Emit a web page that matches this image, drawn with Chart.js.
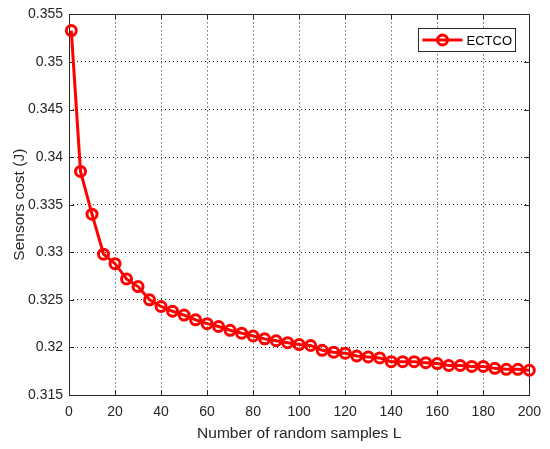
<!DOCTYPE html>
<html>
<head>
<meta charset="utf-8">
<script src="https://cdn.jsdelivr.net/npm/chart.js@4/dist/chart.umd.min.js"></script>
<style>
  html, body { margin: 0; padding: 0; background: #fff; }
  #wrap { width: 550px; height: 449px; position: relative; }
</style>
</head>
<body>
<div id="wrap"><canvas id="cost-chart"></canvas></div>
<script>
// values
const samplesL = [1, 5, 10, 15, 20, 25, 30, 35, 40, 45, 50, 55, 60, 65, 70, 75, 80, 85, 90, 95, 100,
                  105, 110, 115, 120, 125, 130, 135, 140, 145, 150, 155, 160, 165, 170, 175, 180, 185, 190, 195, 200];
const sensorCost = [0.3533, 0.3385, 0.3340, 0.3298, 0.3288, 0.3272, 0.3264, 0.3250, 0.3243, 0.3238, 0.3234,
                    0.3229, 0.3225, 0.3222, 0.3218, 0.3215, 0.3212, 0.3209, 0.3207, 0.3205, 0.3203,
                    0.3202, 0.3197, 0.3195, 0.3194, 0.3191, 0.3190, 0.3189, 0.3185, 0.3185, 0.3185,
                    0.3184, 0.3183, 0.3181, 0.3181, 0.3180, 0.3180, 0.3178, 0.3177, 0.3177, 0.3176];
const seriesName = "ECTCO";
const xTicks = [0, 20, 40, 60, 80, 100, 120, 140, 160, 180, 200];
const yTicks = [0.315, 0.32, 0.325, 0.33, 0.335, 0.34, 0.345, 0.35, 0.355];

const FONT = "'Liberation Sans', Arial, Helvetica, sans-serif";
const INK = "#262626";

// frame box + inward ticks on all four sides (matlab style)
const frameBox = {
    id: "frameBox",
    beforeDatasetsDraw(chart) {
        const { ctx, chartArea: a, scales } = chart;
        ctx.save();
        ctx.strokeStyle = INK;
        ctx.lineWidth = 1;
        ctx.beginPath();
        xTicks.forEach(v => {
            const px = Math.round(scales.x.getPixelForValue(v)) + 0.5;
            ctx.moveTo(px, a.bottom); ctx.lineTo(px, a.bottom - 5);
            ctx.moveTo(px, a.top); ctx.lineTo(px, a.top + 5);
        });
        yTicks.forEach(v => {
            const py = Math.round(scales.y.getPixelForValue(v)) + 0.5;
            ctx.moveTo(a.left, py); ctx.lineTo(a.left + 5, py);
            ctx.moveTo(a.right, py); ctx.lineTo(a.right - 5, py);
        });
        ctx.stroke();
        ctx.strokeRect(Math.round(a.left) + 0.5, Math.round(a.top) + 0.5,
                       Math.round(a.right - a.left), Math.round(a.bottom - a.top));
        ctx.restore();
    },
    afterDraw(chart) {
        // legend box, top right inside the axes
        const { ctx, chartArea: a } = chart;
        const ds = chart.data.datasets[0];
        const w = 97, h = 23;
        const bx = Math.round(a.right - 14 - w) + 0.5;
        const by = Math.round(a.top + 14) + 0.5;
        ctx.save();
        ctx.fillStyle = "#fff";
        ctx.fillRect(bx, by, w, h);
        ctx.strokeStyle = INK;
        ctx.lineWidth = 1;
        ctx.strokeRect(bx, by, w, h);
        const cy = by + h / 2;
        ctx.strokeStyle = ds.borderColor;
        ctx.lineWidth = ds.borderWidth;
        ctx.beginPath();
        ctx.moveTo(bx + 4, cy); ctx.lineTo(bx + 44, cy);
        ctx.stroke();
        ctx.lineWidth = ds.pointBorderWidth;
        ctx.beginPath();
        ctx.arc(bx + 24, cy, ds.pointRadius, 0, Math.PI * 2);
        ctx.stroke();
        ctx.fillStyle = "#000";
        ctx.font = "13px " + FONT;
        ctx.textBaseline = "middle";
        ctx.fillText(ds.label, bx + 48, cy + 1);
        ctx.restore();
    }
};

const trimNum = v => String(parseFloat(Number(v).toFixed(3)));

new Chart(document.getElementById("cost-chart"), {
    type: "line",
    data: {
        datasets: [{
            label: seriesName,
            data: samplesL.map((L, i) => ({ x: L, y: sensorCost[i] })),
            borderColor: "#ff0000",
            borderWidth: 3,
            pointRadius: 5,
            pointBorderWidth: 3,
            pointBackgroundColor: "rgba(0,0,0,0)",
            pointBorderColor: "#ff0000",
            tension: 0,
            clip: false
        }]
    },
    options: {
        responsive: true,
        maintainAspectRatio: false,
        animation: false,
        layout: { padding: { left: 0, right: 17, top: 12, bottom: 0 } },
        plugins: {
            legend: { display: false },
            tooltip: { enabled: false }
        },
        scales: {
            x: {
                type: "linear",
                min: 0, max: 200,
                afterBuildTicks: s => { s.ticks = xTicks.map(v => ({ value: v })); },
                afterFit: s => { s.height = 54; },
                border: { display: false, dash: [1, 3] },
                grid: { color: INK, lineWidth: 1, drawTicks: false },
                ticks: { color: INK, font: { family: FONT, size: 14 }, padding: 9, maxRotation: 0 },
                title: { display: true, text: "Number of random samples L", color: INK,
                         font: { family: FONT, size: 15.5 }, padding: { top: 0, bottom: 6 } }
            },
            y: {
                min: 0.315, max: 0.355,
                afterBuildTicks: s => { s.ticks = yTicks.map(v => ({ value: v })); },
                afterFit: s => { s.width = 69; },
                border: { display: false, dash: [1, 3] },
                grid: { color: INK, lineWidth: 1, drawTicks: false },
                ticks: { color: INK, font: { family: FONT, size: 14 }, padding: 6, callback: trimNum },
                title: { display: true, text: "Sensors cost (J)", color: INK,
                         font: { family: FONT, size: 15.5 }, padding: { top: 10, bottom: 0 } }
            }
        }
    },
    plugins: [frameBox]
});
</script>
</body>
</html>
